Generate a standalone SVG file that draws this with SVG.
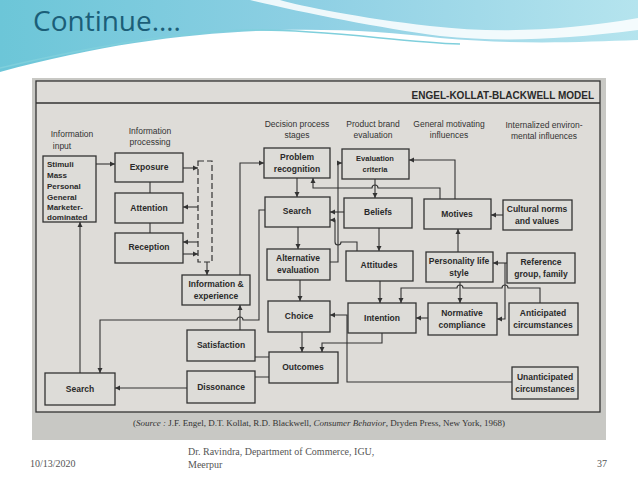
<svg xmlns="http://www.w3.org/2000/svg" width="638" height="478" viewBox="0 0 638 478">
<defs>
<linearGradient id="sky" x1="0" y1="0" x2="1" y2="0"><stop offset="0" stop-color="#6cc6d8"/><stop offset="0.5" stop-color="#8fd0e4"/><stop offset="1" stop-color="#b5e4ee"/></linearGradient>
<marker id="ah" markerWidth="6" markerHeight="6" refX="5" refY="3" orient="auto" markerUnits="userSpaceOnUse"><path d="M0,0.5 L5,3 L0,5.5 Z" fill="#333"/></marker>
</defs>
<style>
.b rect{fill:#dddcd8;stroke:#333;stroke-width:1.3}
.t{font-family:"Liberation Sans",Arial,sans-serif;font-size:8.5px;fill:#2a2a2a;text-anchor:middle;font-weight:bold}
.s{font-family:"Liberation Sans",Arial,sans-serif;font-size:8px;fill:#2a2a2a;font-weight:bold}
.h{font-family:"Liberation Sans",Arial,sans-serif;font-size:8.5px;fill:#333;text-anchor:middle}
#conn path{fill:none;stroke:#333;stroke-width:1.1}
.f{font-family:"Liberation Serif",serif;font-size:10px;fill:#555}
</style>
<rect width="638" height="478" fill="#fff"/>
<path d="M0,0 H638 V40 C580,42 520,45 440,38 C330,25 180,22 0,72 Z" fill="url(#sky)"/>
<path d="M250,0 C300,12 380,28 440,36 C500,42 560,40 638,30 V18 C570,30 500,34 430,26 C360,18 300,6 280,0 Z" fill="#ffffff" opacity="0.85"/>
<path d="M0,68 C120,40 200,30 260,30 C330,30 400,42 460,44" fill="none" stroke="#7fcfdc" stroke-width="1.5"/>
<text x="33" y="31" font-family="Open Sans, Liberation Sans, sans-serif" font-size="28" fill="#1b5e78">Continue….</text>

<rect x="32" y="78" width="574" height="362" fill="#c8c8c4"/>
<rect x="36" y="81" width="564" height="331" fill="#dedcd8" stroke="#333" stroke-width="1.3"/>
<line x1="36" y1="103" x2="600" y2="103" stroke="#333" stroke-width="1.3"/>
<text x="594" y="99" class="t" style="text-anchor:end;font-size:10px">ENGEL-KOLLAT-BLACKWELL MODEL</text>
<text x="319" y="426" class="h" style="font-family:'Liberation Serif',serif;font-size:9px">(<tspan font-style="italic">Source :</tspan> J.F. Engel, D.T. Kollat, R.D. Blackwell, <tspan font-style="italic">Consumer Behavior</tspan>, Dryden Press, New York, 1968)</text>

<g id="headers">
<text class="h" x="72" y="137">Information</text><text class="h" x="62" y="149">input</text>
<text class="h" x="150" y="134">Information</text><text class="h" x="150" y="145">processing</text>
<text class="h" x="297" y="127">Decision process</text><text class="h" x="297" y="138">stages</text>
<text class="h" x="373" y="127">Product brand</text><text class="h" x="373" y="138">evaluation</text>
<text class="h" x="449" y="127">General motivating</text><text class="h" x="449" y="138">influences</text>
<text class="h" x="544" y="128">Internalized environ-</text><text class="h" x="544" y="139">mental influences</text>
</g>

<g id="stimuli" class="b"><rect x="43" y="156" width="53" height="66"/>
<text class="s" x="47" y="167">Stimuli</text><text class="s" x="47" y="178">Mass</text><text class="s" x="47" y="189">Personal</text><text class="s" x="47" y="200">General</text><text class="s" x="47" y="210">Marketer-</text><text class="s" x="47" y="220">dominated</text></g>
<g id="exposure" class="b"><rect x="115" y="153" width="68" height="29"/><text class="t" x="149" y="170">Exposure</text></g>
<g id="attention" class="b"><rect x="115" y="193" width="68" height="30"/><text class="t" x="149" y="211">Attention</text></g>
<g id="reception" class="b"><rect x="115" y="233" width="68" height="30"/><text class="t" x="149" y="250">Reception</text></g>
<g id="memory"><rect x="198" y="161" width="14" height="101" fill="none" stroke="#333" stroke-width="1.2" stroke-dasharray="6,3"/></g>
<g id="infoexp" class="b"><rect x="182" y="275" width="68" height="30"/><text class="t" x="216" y="287">Information &amp;</text><text class="t" x="216" y="299">experience</text></g>
<g id="satisfaction" class="b"><rect x="187" y="330" width="68" height="31"/><text class="t" x="221" y="348">Satisfaction</text></g>
<g id="dissonance" class="b"><rect x="187" y="371" width="68" height="32"/><text class="t" x="221" y="390">Dissonance</text></g>
<g id="search2" class="b"><rect x="45" y="373" width="70" height="32"/><text class="t" x="80" y="392">Search</text></g>

<g id="problem" class="b"><rect x="264" y="148" width="66" height="30"/><text class="t" x="297" y="160">Problem</text><text class="t" x="297" y="172">recognition</text></g>
<g id="search" class="b"><rect x="265" y="197" width="65" height="30"/><text class="t" x="297" y="214">Search</text></g>
<g id="alteval" class="b"><rect x="267" y="249" width="63" height="31"/><text class="t" x="298" y="261">Alternative</text><text class="t" x="298" y="273">evaluation</text></g>
<g id="choice" class="b"><rect x="268" y="301" width="62" height="31"/><text class="t" x="299" y="319">Choice</text></g>
<g id="outcomes" class="b"><rect x="269" y="352" width="69" height="31"/><text class="t" x="303" y="370">Outcomes</text></g>

<g id="evalcrit" class="b"><rect x="342" y="149" width="67" height="30"/><text class="t" x="375" y="161" style="font-size:7.5px">Evaluation</text><text class="t" x="375" y="172" style="font-size:7.5px">criteria</text></g>
<g id="beliefs" class="b"><rect x="344" y="198" width="68" height="30"/><text class="t" x="378" y="215">Beliefs</text></g>
<g id="attitudes" class="b"><rect x="346" y="251" width="67" height="30"/><text class="t" x="379" y="268">Attitudes</text></g>
<g id="intention" class="b"><rect x="348" y="303" width="68" height="30"/><text class="t" x="382" y="321">Intention</text></g>

<g id="motives" class="b"><rect x="424" y="199" width="67" height="30"/><text class="t" x="457" y="217">Motives</text></g>
<g id="personality" class="b"><rect x="426" y="252" width="67" height="30"/><text class="t" x="459" y="264">Personality life</text><text class="t" x="459" y="276">style</text></g>
<g id="normative" class="b"><rect x="428" y="303" width="69" height="32"/><text class="t" x="462" y="316">Normative</text><text class="t" x="462" y="328">compliance</text></g>

<g id="cultural" class="b"><rect x="503" y="200" width="69" height="30"/><text class="t" x="537" y="212">Cultural norms</text><text class="t" x="537" y="224">and values</text></g>
<g id="reference" class="b"><rect x="507" y="253" width="68" height="30"/><text class="t" x="541" y="265">Reference</text><text class="t" x="541" y="277">group, family</text></g>
<g id="anticipated" class="b"><rect x="509" y="303" width="69" height="32"/><text class="t" x="543" y="316">Anticipated</text><text class="t" x="543" y="328">circumstances</text></g>
<g id="unanticipated" class="b"><rect x="512" y="367" width="66" height="32"/><text class="t" x="545" y="380">Unanticipated</text><text class="t" x="545" y="392">circumstances</text></g>

<g id="conn">
<path d="M96,164 H115" marker-end="url(#ah)"/>
<path d="M150,182 V193 M150,223 V233"/>
<path d="M183,168 H198" marker-end="url(#ah)"/>
<path d="M198,207 H183" marker-end="url(#ah)"/>
<path d="M198,242 H183" marker-end="url(#ah)"/>
<path d="M183,254 H198" marker-end="url(#ah)"/>
<path d="M207,262 V275" marker-end="url(#ah)"/>
<path d="M240,275 V163 H264" marker-end="url(#ah)"/>
<path d="M265,210 H259 V320 H243 A3,3 0 0 0 237,320 H100 V373" marker-end="url(#ah)"/>
<path d="M240,330 V305" marker-end="url(#ah)"/>
<path d="M255,357 H269 M255,377 H269"/>
<path d="M187,388 H115" marker-end="url(#ah)"/>
<path d="M80,373 V222" marker-end="url(#ah)"/>
<path d="M297,178 V197" marker-end="url(#ah)"/>
<path d="M298,227 V249" marker-end="url(#ah)"/>
<path d="M300,280 V301" marker-end="url(#ah)"/>
<path d="M302,332 V352" marker-end="url(#ah)"/>
<path d="M330,262 H338 V163 H342" marker-end="url(#ah)"/>
<path d="M375,179 V198" marker-end="url(#ah)"/>
<path d="M344,212 H330" marker-end="url(#ah)"/>
<path d="M379,228 V251" marker-end="url(#ah)"/>
<path d="M357,251 V242 H341 A3,3 0 0 1 335,242 V220 H330" marker-end="url(#ah)"/>
<path d="M380,281 V303" marker-end="url(#ah)"/>
<path d="M512,382 H347 V315 H330" marker-end="url(#ah)"/>
<path d="M382,333 V343 H322 V352" marker-end="url(#ah)"/>
<path d="M455,199 V160 H409" marker-end="url(#ah)"/>
<path d="M440,199 V188 H378 A3,3 0 0 0 372,188 H313 V178" marker-end="url(#ah)"/>
<path d="M503,215 H491" marker-end="url(#ah)"/>
<path d="M458,252 V229" marker-end="url(#ah)"/>
<path d="M507,263 H493" marker-end="url(#ah)"/>
<path d="M505,263 V319 H497" marker-end="url(#ah)"/>
<path d="M460,282 V303" marker-end="url(#ah)"/>
<path d="M540,303 V288 H508 A3,3 0 0 0 502,288 H463 A3,3 0 0 0 457,288 H401 V303" marker-end="url(#ah)"/>
<path d="M428,318 H416" marker-end="url(#ah)"/>
</g>

<text class="f" x="30" y="467">10/13/2020</text>
<text class="f" x="188" y="455">Dr. Ravindra, Department of Commerce, IGU,</text>
<text class="f" x="188" y="468">Meerpur</text>
<text class="f" x="597" y="467">37</text>
</svg>
